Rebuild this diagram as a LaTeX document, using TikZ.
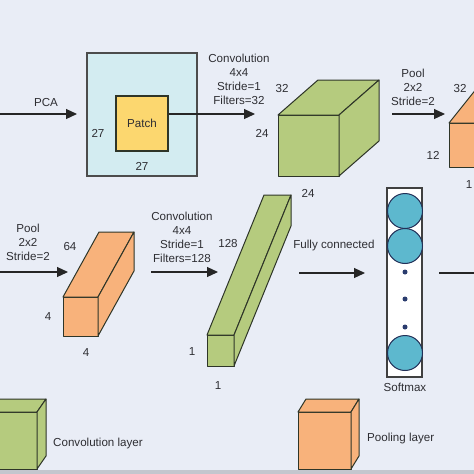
\documentclass[tikz,border=0pt]{standalone}
\usepackage{fontspec}
\setmainfont{Liberation Sans}
\usetikzlibrary{arrows.meta}
\definecolor{bg}{HTML}{E9EDF6}
\definecolor{strip}{HTML}{C4C6CE}
\definecolor{cyanbox}{HTML}{D3ECF1}
\definecolor{patchc}{HTML}{FCD76F}
\definecolor{greenc}{HTML}{B5CB7E}
\definecolor{orangec}{HTML}{F8B27B}
\definecolor{circc}{HTML}{5DB8CE}
\definecolor{dotc}{HTML}{2A3C6E}
\definecolor{edgec}{HTML}{2E3528}
\definecolor{txt}{HTML}{2E2E33}
\newcommand\mycuboid[7]{%
  \filldraw[fill=#7,cubeedge] (#1,#2) rectangle ++(#3,#4);
  \filldraw[fill=#7,cubeedge] (#1,#2) -- ++(#5,-#6) -- ++(#3,0) -- ++(-#5,#6) -- cycle;
  \filldraw[fill=#7,cubeedge] (#1+#3,#2) -- ++(#5,-#6) -- ++(0,#4) -- ++(-#5,#6) -- cycle;
}
\begin{document}
\begin{tikzpicture}[x=1pt,y=-1pt,
  lbl/.style={font=\fontsize{11.6}{14}\selectfont,text=txt,inner sep=0pt,align=center},
  arr/.style={line width=1.2pt,draw=black!85,-{Triangle[length=11pt,width=10pt]}},
  plain/.style={line width=1.2pt,draw=black!85},
  cubeedge/.style={draw=edgec,line width=1pt,line join=round},
  circ/.style={circle,draw=dotc!80!black,line width=1pt,fill=circc,minimum size=35pt,inner sep=0pt},
  dotn/.style={circle,fill=dotc,minimum size=5pt,inner sep=0pt}]
\useasboundingbox (0,0) rectangle (474,474);
\fill[bg] (0,0) rectangle (474,474);
\fill[strip] (0,470) rectangle (474,474);

% input
\node[draw=black!70,line width=1.2pt,fill=cyanbox,minimum width=110pt,minimum height=123pt,inner sep=0pt] (inbox) at (142,114.5) {};
\node[draw=edgec,line width=1.2pt,fill=patchc,minimum width=52pt,minimum height=55pt,inner sep=0pt,lbl] (patch) at (142,123.5) {Patch};
\node[lbl] (l27a) at (98,133) {27};
\node[lbl] (l27b) at (142,166) {27};

\coordinate (pcas) at (0,114);
\coordinate (pcae) at (77,114);
\draw[arr] (pcas) -- (pcae);
\node[lbl] (pca) at (46,103) {PCA};

\coordinate (c1e) at (255,114);
\draw[arr] (patch.east |- pcae) -- (c1e);
\node[lbl] (conv1) at (239,79) {Convolution\\4x4\\Stride=1\\Filters=32};

% conv cube 1
\mycuboid{278}{115}{61}{61}{40}{35}{greenc}
\node[lbl] (l32a) at (282,89) {32};
\node[lbl] (l24a) at (262,133) {24};
\node[lbl] (l24b) at (308,193) {24};

\coordinate (p1s) at (392,114);
\coordinate (p1e) at (445,114);
\draw[arr] (p1s) -- (p1e);
\node[lbl] (pool1) at (413,87) {Pool\\2x2\\Stride=2};

% pool cube 1
\mycuboid{449}{123}{44}{44}{28}{35}{orangec}
\node[lbl] (l32b) at (460,89) {32};
\node[lbl] (l12a) at (433,155) {12};
\node[lbl] (l12b) at (469,185) {1};

% row 2
\coordinate (p2s) at (0,272);
\coordinate (p2e) at (68,272);
\draw[arr] (p2s) -- (p2e);
\node[lbl] (pool2) at (28,242) {Pool\\2x2\\Stride=2};

\mycuboid{63}{297}{35}{39}{36}{65}{orangec}
\node[lbl] (l64) at (70,247) {64};
\node[lbl] (l4a) at (48,317) {4};
\node[lbl] (l4b) at (86,353) {4};

\coordinate (c2s) at (151,272);
\coordinate (c2e) at (218,272);
\draw[arr] (c2s) -- (c2e);
\node[lbl] (conv2) at (182,237) {Convolution\\4x4\\Stride=1\\Filters=128};

\mycuboid{207}{335}{27}{31}{57}{140}{greenc}
\node[lbl] (l128) at (228,244) {128};
\node[lbl] (l1a) at (192,352) {1};
\node[lbl] (l1b) at (218,386) {1};

\coordinate (fcs) at (299,273);
\coordinate (fce) at (365,273);
\draw[arr] (fcs) -- (fce);
\node[lbl] (fc) at (334,245) {Fully connected};

% softmax column
\node[draw=black!75,line width=1.2pt,fill=white,minimum width=35pt,minimum height=189pt,inner sep=0pt] (sm) at (404.5,282.5) {};
\node[circ] (n1) at (405,211) {};
\node[circ] (n2) at (405,246) {};
\node[dotn] (d1) at (405,272) {};
\node[dotn] (d2) at (405,299) {};
\node[dotn] (d3) at (405,327) {};
\node[circ] (n3) at (405,353) {};
\node[lbl] (smx) at (405,387) {Softmax};

\coordinate (outs) at (439,273);
\coordinate (oute) at (480,273);
\draw[plain] (outs) -- (oute);

% legend
\mycuboid{-18}{412}{55}{57}{9}{13}{greenc}
\node[lbl,anchor=west] (lg1) at (53,443) {Convolution layer};
\mycuboid{298}{412}{53}{57}{8}{13}{orangec}
\node[lbl,anchor=west] (lg2) at (367,438) {Pooling layer};
\end{tikzpicture}
\end{document}
